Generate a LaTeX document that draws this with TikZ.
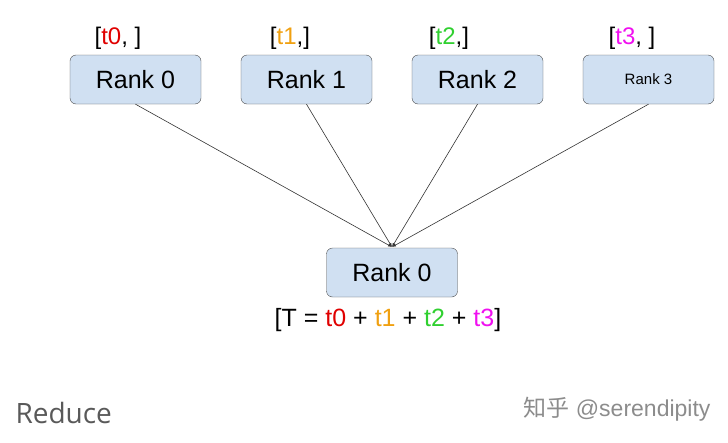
\documentclass[tikz,border=0pt]{standalone}
\usepackage{fontspec}
\setmainfont{Liberation Sans}
\newfontfamily\cjk{Noto Sans CJK SC}
\newfontfamily\uifont{Open Sans}
\usetikzlibrary{arrows.meta}
\definecolor{boxfill}{HTML}{D0E0F2}
\definecolor{tred}{HTML}{E00000}
\definecolor{torange}{HTML}{F0A010}
\definecolor{tgreen}{HTML}{30D030}
\definecolor{tpink}{HTML}{F010F0}
\tikzset{
  rank/.style={draw=black!70, fill=boxfill, rounded corners=6pt, minimum width=131pt, minimum height=49pt, font=\fontsize{25}{28}\selectfont},
  tag/.style={font=\fontsize{24}{28}\selectfont},
  link/.style={-{Latex[length=4pt,width=3pt]}, black!80, line width=0.6pt}
}
\begin{document}
\begin{tikzpicture}[x=1pt,y=-1pt]
  \useasboundingbox (0,0) rectangle (728,442);

  % top row
  \node[rank] (r0) at (135.5,79.5) {Rank 0};
  \node[rank] (r1) at (306.5,79.5) {Rank 1};
  \node[rank] (r2) at (477.5,79.5) {Rank 2};
  \node[rank, font=\fontsize{15}{18}\selectfont] (r3) at (648.5,79.5) {Rank 3};

  \node[tag] (l0) at (118,38) {[\textcolor{tred}{t0}, ]};
  \node[tag] (l1) at (290,38) {[\textcolor{torange}{t1},]};
  \node[tag] (l2) at (449,38) {[\textcolor{tgreen}{t2},]};
  \node[tag] (l3) at (632,38) {[\textcolor{tpink}{t3}, ]};

  % root
  \node[rank] (root) at (392,272.5) {Rank 0};
  \node[tag, font=\fontsize{25}{28}\selectfont] (sum) at (388,320) {[T = \textcolor{tred}{t0} + \textcolor{torange}{t1} + \textcolor{tgreen}{t2} + \textcolor{tpink}{t3}]};
  \coordinate (hub) at (392,247);

  \foreach \r in {r0,r1,r2,r3}
    \draw[link] (\r.south) -- (hub);

  \node[anchor=west, text=black!65, font=\uifont\fontsize{28}{32}\selectfont] (title) at (12,413) {Reduce};
  \node[anchor=east, text=black!45, font=\fontsize{23}{26}\selectfont] (mark) at (714,409) {{\cjk 知乎} @serendipity};
\end{tikzpicture}
\end{document}
